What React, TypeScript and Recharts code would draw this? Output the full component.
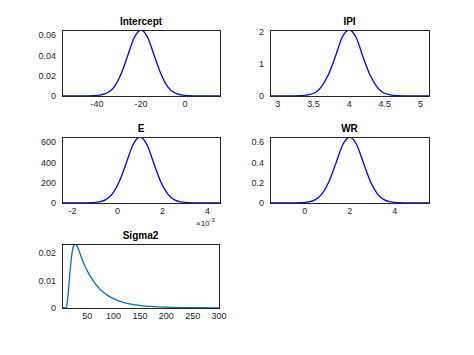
import { Line, LineChart, XAxis, YAxis } from "recharts";

// values
const interceptX = [-56, -47.5, -41.4, -38.3, -35.3, -32.2, -29.2, -26.1, -23.1, -20, -16.9, -13.9, -10.8, -7.8, -4.7, -1.7, 1.4, 7.5, 16];
const interceptY = [0, 0.00005, 0.0004, 0.0011, 0.0032, 0.0091, 0.0212, 0.0394, 0.0574, 0.065, 0.0574, 0.0394, 0.0212, 0.0091, 0.0032, 0.0011, 0.0004, 0.00005, 0];

const ipiX = [2.89, 3.13, 3.32, 3.42, 3.52, 3.61, 3.71, 3.81, 3.9, 4, 4.1, 4.19, 4.29, 4.39, 4.48, 4.58, 4.68, 4.87, 5.12];
const ipiY = [0, 0.002, 0.012, 0.034, 0.1, 0.288, 0.672, 1.2494, 1.818, 2.06, 1.818, 1.2494, 0.672, 0.288, 0.1, 0.034, 0.012, 0.002, 0];

const eX = [-0.00247, -0.00176, -0.00115, -0.00084, -0.00054, -0.00023, 0.00008, 0.00039, 0.00069, 0.001, 0.00131, 0.00161, 0.00192, 0.00223, 0.00254, 0.00284, 0.00315, 0.00376, 0.00456];
const eY = [0, 0.5, 3.8, 10.5, 31, 90, 212, 394, 574, 650, 574, 394, 212, 90, 31, 10.5, 3.8, 0.5, 0];

const wrX = [-1.54, -0.76, -0.15, 0.16, 0.46, 0.77, 1.08, 1.39, 1.69, 2, 2.31, 2.61, 2.92, 3.23, 3.54, 3.84, 4.15, 4.76, 5.52];
const wrY = [0, 0.0005, 0.0038, 0.0105, 0.031, 0.09, 0.212, 0.394, 0.574, 0.65, 0.574, 0.394, 0.212, 0.09, 0.031, 0.0105, 0.0038, 0.0005, 0];

const sigmaX = [2, 10, 12, 15, 18, 20, 23, 27, 30, 35, 40, 45, 50, 60, 70, 80, 90, 100, 110, 120, 130, 150, 175, 200, 250, 300];
const sigmaY = [0, 0, 0.002, 0.008, 0.015, 0.0185, 0.022, 0.0232, 0.0228, 0.0205, 0.0178, 0.0155, 0.0135, 0.0102, 0.0077, 0.0058, 0.0044, 0.0034, 0.0026, 0.002, 0.0015, 0.0009, 0.0005, 0.0003, 0.0001, 0.00005];

const interceptXTicks = [-40, -20, 0];
const interceptYTicks = [0, 0.02, 0.04, 0.06];
const ipiXTicks = [3, 3.5, 4, 4.5, 5];
const ipiYTicks = [0, 1, 2];
const eXTicks = [-0.002, 0, 0.002, 0.004];
const eYTicks = [0, 200, 400, 600];
const wrXTicks = [0, 2, 4];
const wrYTicks = [0, 0.2, 0.4, 0.6];
const sigmaXTicks = [50, 100, 150, 200, 250, 300];
const sigmaYTicks = [0, 0.01, 0.02];

const ink = "#262626";
const font = "Arial, 'Liberation Sans', Helvetica, sans-serif";
const tickStyle = { fontSize: 9, fill: ink, fontFamily: font };

const L = 45;
const T = 15;
const R = 10;
const B = 25;

type PanelProps = {
  title: string;
  xs: number[];
  ys: number[];
  xDomain: [number, number];
  yDomain: [number, number];
  xTicks: number[];
  yTicks: number[];
  left: number;
  top: number;
  w: number;
  h: number;
  color: string;
  xFmt?: (v: number) => string;
  note?: boolean;
};

function Panel(p: PanelProps) {
  const data = p.xs.map((x, i) => ({ x, y: p.ys[i] }));
  return (
    <div style={{ position: "absolute", left: p.left - L, top: p.top - T }}>
      <div
        style={{
          position: "absolute",
          left: L,
          width: p.w,
          top: T - 14,
          textAlign: "center",
          fontFamily: font,
          fontWeight: "bold",
          fontSize: 10,
          color: "#000",
          lineHeight: "12px",
        }}
      >
        {p.title}
      </div>
      <LineChart
        width={p.w + L + R}
        height={p.h + T + B}
        data={data}
        margin={{ top: T, right: R, left: 0, bottom: 0 }}
      >
        <XAxis
          dataKey="x"
          type="number"
          domain={p.xDomain}
          allowDataOverflow
          ticks={p.xTicks}
          tickFormatter={p.xFmt}
          interval={0}
          height={B}
          tick={tickStyle}
          tickLine={false}
          axisLine={false}
          tickSize={0}
          tickMargin={5}
        />
        <YAxis
          type="number"
          domain={p.yDomain}
          allowDataOverflow
          ticks={p.yTicks}
          interval={0}
          width={L}
          tick={tickStyle}
          tickLine={false}
          axisLine={false}
          tickSize={0}
          tickMargin={6}
        />
        <Line
          type="monotone"
          dataKey="y"
          stroke={p.color}
          strokeWidth={1.3}
          dot={false}
          isAnimationActive={false}
        />
      </LineChart>
      {/* axes box */}
      <div
        style={{
          position: "absolute",
          left: L,
          top: T,
          width: p.w + 1,
          height: p.h + 1,
          boxSizing: "border-box",
          border: `1px solid ${ink}`,
          pointerEvents: "none",
        }}
      />
      {p.note && (
        <div
          style={{
            position: "absolute",
            left: L + p.w - 24,
            top: T + p.h + 14,
            fontFamily: font,
            fontSize: 8,
            color: ink,
            whiteSpace: "nowrap",
          }}
        >
          ×10<sup style={{ fontSize: 6 }}>-3</sup>
        </div>
      )}
    </div>
  );
}

export default function App() {
  return (
    <div style={{ position: "absolute", left: 0, top: 0, width: 474, height: 355, background: "#fff" }}>
      <Panel title="Intercept" xs={interceptX} ys={interceptY} xDomain={[-56, 16]} yDomain={[0, 0.065]}
        xTicks={interceptXTicks} yTicks={interceptYTicks} left={62} top={30} w={158} h={66} color="#0000ff" />
      <Panel title="IPI" xs={ipiX} ys={ipiY} xDomain={[2.89, 5.12]} yDomain={[0, 2.06]}
        xTicks={ipiXTicks} yTicks={ipiYTicks} left={270} top={30} w={159} h={66} color="#0000ff" />
      <Panel title="E" xs={eX} ys={eY} xDomain={[-0.00247, 0.00456]} yDomain={[0, 650]}
        xTicks={eXTicks} yTicks={eYTicks} left={62} top={137} w={158} h={66} color="#0000ff"
        xFmt={(v) => String(Math.round(v * 1000))} note />
      <Panel title="WR" xs={wrX} ys={wrY} xDomain={[-1.54, 5.52]} yDomain={[0, 0.65]}
        xTicks={wrXTicks} yTicks={wrYTicks} left={270} top={137} w={159} h={66} color="#0000ff" />
      <Panel title="Sigma2" xs={sigmaX} ys={sigmaY} xDomain={[2, 300]} yDomain={[0, 0.0233]}
        xTicks={sigmaXTicks} yTicks={sigmaYTicks} left={62} top={244} w={157} h={64} color="#0072bd" />
    </div>
  );
}
